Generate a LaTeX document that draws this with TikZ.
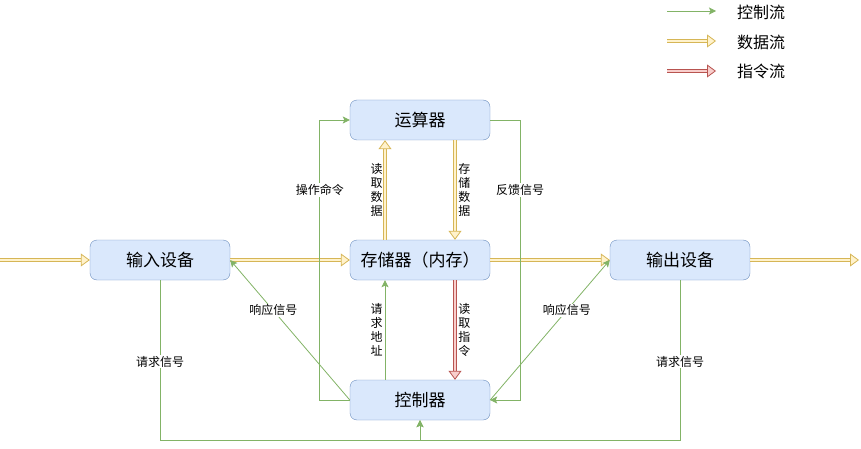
\documentclass[tikz,border=0pt]{standalone}
\usepackage{fontspec}
\setmainfont{Noto Sans CJK SC}
\usetikzlibrary{arrows.meta}
\definecolor{boxfill}{HTML}{DAE8FC}
\definecolor{boxline}{HTML}{6C8EBF}
\definecolor{ctrl}{HTML}{82B366}
\definecolor{datafill}{HTML}{FFF2CC}
\definecolor{dataline}{HTML}{D6B656}
\definecolor{insfill}{HTML}{F8CECC}
\definecolor{insline}{HTML}{B85450}
\begin{document}
\begin{tikzpicture}[x=1pt,y=-1pt,
	unit/.style={draw=boxline,fill=boxfill,rounded corners=7pt,minimum width=140pt,minimum height=40pt,inner sep=0pt,font=\fontsize{17}{20}\selectfont},
	ctrlflow/.style={draw=ctrl,line width=0.8pt,-{Stealth[length=7pt,width=7pt,inset=1.5pt]}},
	dataflow/.style={draw=dataline,double=datafill,double distance=2.4pt,line width=0.8pt,-{Triangle[fill=datafill,length=9pt,width=13pt]}},
	insflow/.style={draw=insline,double=insfill,double distance=2.4pt,line width=0.8pt,-{Triangle[fill=insfill,length=9pt,width=13pt]}},
	lab/.style={fill=white,inner sep=1pt,font=\fontsize{12}{14}\selectfont},
	vlab/.style={align=center,inner sep=0pt,font=\fontsize{12}{14}\selectfont},
	keytext/.style={anchor=center,font=\fontsize{16}{18}\selectfont}]
	\useasboundingbox (0,0) rectangle (861,449);
	% units
	\node[unit] (alu) at (420,120) {运算器};
	\node[unit] (mem) at (420,260) {存储器（内存）};
	\node[unit] (ctl) at (420,400) {控制器};
	\node[unit] (in) at (160,260) {输入设备};
	\node[unit] (out) at (680,260) {输出设备};
	\coordinate (src) at (0,260);
	\coordinate (sink) at (859,260);
	\coordinate (bus) at (420,440);
	% data
	\draw[dataflow] (src) -- (in);
	\draw[dataflow] (in) -- (mem);
	\draw[dataflow] (mem) -- (out);
	\draw[dataflow] (out) -- (sink);
	\draw[dataflow] ([xshift=-35pt]mem.north) -- node[vlab,left=2pt] (rd) {读\\取\\数\\据} ([xshift=-35pt]alu.south);
	\draw[dataflow] ([xshift=35pt]alu.south) -- node[vlab,right=3pt] (wr) {存\\储\\数\\据} ([xshift=35pt]mem.north);
	\draw[insflow] ([xshift=35pt]mem.south) -- node[vlab,right=3pt] (fetch) {读\\取\\指\\令} ([xshift=35pt]ctl.north);
	% control
	\draw[ctrlflow] ([xshift=-35pt]ctl.north) -- node[vlab,left=2pt] (addr) {请\\求\\地\\址} ([xshift=-35pt]mem.south);
	\draw[ctrlflow] (ctl.west) -- ++(-30,0) -- node[lab,pos=0.75] (cmd) {操作命令} ++(0,-280) -- (alu.west);
	\draw[ctrlflow] (alu.east) -- ++(30,0) -- node[lab,pos=0.25] (fb) {反馈信号} ++(0,280) -- (ctl.east);
	\draw[ctrlflow] (ctl.west) -- node[lab,pos=0.64] (ackin) {响应信号} (in.east);
	\draw[ctrlflow] (ctl.east) -- node[lab,pos=0.64] (ackout) {响应信号} (out.west);
	\draw[ctrlflow] (in.south) -- node[lab,pos=0.51] (reqin) {请求信号} (in.south |- bus) -- (bus) -- (ctl.south);
	\draw[ctrlflow] (out.south) -- node[lab,pos=0.51] (reqout) {请求信号} (out.south |- bus) -- (bus) -- (ctl.south);
	% legend
	\coordinate (k1a) at (667,11); \coordinate (k1b) at (716,11);
	\coordinate (k2a) at (667,41); \coordinate (k2b) at (716,41);
	\coordinate (k3a) at (667,71); \coordinate (k3b) at (716,71);
	\draw[ctrlflow] (k1a) -- (k1b);
	\draw[dataflow] (k2a) -- (k2b);
	\draw[insflow] (k3a) -- (k3b);
	\node[keytext] (key1) at (761,12) {控制流};
	\node[keytext] (key2) at (761,42) {数据流};
	\node[keytext] (key3) at (761,71) {指令流};
\end{tikzpicture}
\end{document}
